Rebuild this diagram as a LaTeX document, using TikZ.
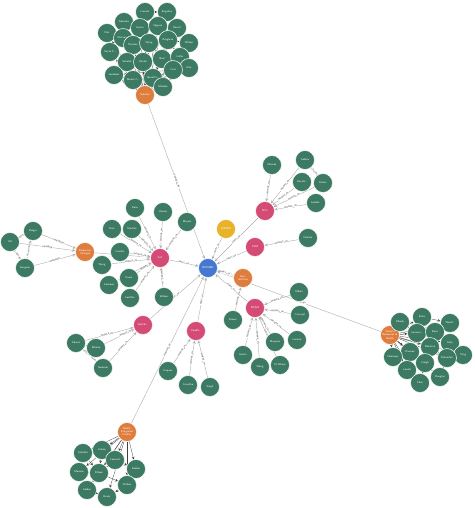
\documentclass[tikz,border=0pt]{standalone}
\usetikzlibrary{arrows}
\usetikzlibrary{backgrounds}
\begin{document}
\begin{tikzpicture}[line cap=round,line join=round,x=1pt,y=-1pt,
  ent/.style={circle,draw=white,line width=0.5pt,inner sep=0pt,minimum size=19pt,text=white,align=center,font=\sffamily\fontsize{2.7}{3.1}\selectfont},
  person/.style={ent,fill=ngreen},
  inst/.style={ent,fill=norange},
  dept/.style={ent,fill=npink},
  rel/.style={draw=egray,line width=0.4pt,->,>=stealth},
  coll/.style={draw=cgray,line width=0.3pt,->,>=stealth},
  elab/.style={sloped,midway,fill=white,inner sep=0.2pt,text=tgray,font=\sffamily\bfseries\fontsize{2.2}{2.4}\selectfont}]
\definecolor{ngreen}{rgb}{0.24,0.48,0.39}
\definecolor{norange}{rgb}{0.87,0.49,0.24}
\definecolor{npink}{rgb}{0.83,0.30,0.46}
\definecolor{nyellow}{rgb}{0.91,0.70,0.16}
\definecolor{nblue}{rgb}{0.28,0.47,0.82}
\definecolor{egray}{rgb}{0.68,0.68,0.68}
\definecolor{cgray}{rgb}{0.25,0.25,0.25}
\definecolor{tgray}{rgb}{0.38,0.38,0.38}
\useasboundingbox (0,0) rectangle (474,508);
% hub and first ring
\node[ent,fill=nblue] (biomed) at (208,268) {BIOMED};
\node[ent,fill=nyellow] (somed) at (226,229) {SOMED};
\node[dept] (gci) at (160,258) {GCI};
\node[dept] (rcl) at (265,211) {RCL};
\node[dept] (cvm) at (255,247) {CVM};
\node[dept] (ncam) at (255,308) {NCAM};
\node[dept] (bioch) at (143,325) {BioChi\ldots};
\node[dept] (foods) at (196,331) {FoodS\ldots};
\node[inst] (resinst) at (243,278) {Res.\\Institute};
\node[inst] (orgtop) at (145,95) {Sabatini};
\node[inst] (orgleft) at (85,252) {Endocrine\\Changes};
\node[inst] (orgright) at (390,335) {Natural\\Resources \&\\Health};
\node[inst] (orgbot) at (127,432) {Health\\Integrated\\Facility};
% people round the departments
\foreach \n/\x/\y/\t in {g1/135/208/Dean,g2/163/212/Okorie,g3/187/222/Meyers,g4/112/229/Diaz,g5/132/229/Martins,
  g6/120/252/Cambia,g7/102/265/Wang,g8/109/285/Andrews,g9/129/278/Kwon,g10/130/298/Lochbie,g11/164/297/Wilson}
  \node[person] (\n) at (\x,\y) {\t};
\foreach \n/\x/\y/\t in {l1/33/231/Bolger,l2/10/242/Gill,l3/25/268/Songwei}
  \node[person] (\n) at (\x,\y) {\t};
\foreach \n/\x/\y/\t in {r1/272/165/Marcos,r2/305/160/Gebbie,r3/302/182/{Kovalc\ldots},r4/323/183/Dolan,r5/316/203/{Lorello\ldots}}
  \node[person] (\n) at (\x,\y) {\t};
\node[person] (v1) at (308,238) {Denton};
\foreach \n/\x/\y/\t in {n1/299/292/Mbeki,n2/300/315/Carvajal,n3/233/320/Brown,n4/297/340/Lozano,
  n5/275/342/Marquez,n6/243/355/Garcia,n7/280/365/St.Hilaire,n8/260/367/Wong}
  \node[person] (\n) at (\x,\y) {\t};
\foreach \n/\x/\y/\t in {c1/76/343/Adams,c2/96/348/Ribeiro,c3/103/368/Sorberio}
  \node[person] (\n) at (\x,\y) {\t};
\foreach \n/\x/\y/\t in {f1/168/371/Kapoor,f2/188/385/Carvalho,f3/210/387/Singh}
  \node[person] (\n) at (\x,\y) {\t};
% top cluster
\foreach \n/\x/\y/\t in {t1/145/12/Lincoln,t2/167/12/Engelma,t3/124/22/Abendro,t4/140/28/Garcia,t5/158/26/Nguyen,
  t6/177/28/Hewitt,t7/107/33/Naz,t8/123/38/{Watana\ldots},t9/168/40/Bergman,t10/189/43/Wilson,t11/133/45/Paulsen,
  t12/149/43/Wang,t13/110/52/{Santo F\ldots},t14/127/62/Schulze,t15/143/62/Okafor,t16/162/59/Neal,t17/180/57/Lefler,
  t18/189/68/Kim,t19/173/70/Cruz,t20/114/75/Jacobsen,t21/133/80/{Monte C\ldots},t22/153/78/{Norel D\ldots},t23/163/87/Madsen}
  \node[person] (\n) at (\x,\y) {\t};
% right cluster
\foreach \n/\x/\y/\t in {q1/422/317/Brito,q2/400/322/Mbodj,q3/450/323/{Woolf\ldots},q4/417/333/{Jovanov\ldots},q5/435/332/Bean,
  q6/450/343/Kelly,q7/430/347/Nazarian,q8/410/352/Dawson,q9/463/355/Yang,q10/393/357/Henrique,
  q11/447/358/Eskandari,q12/425/363/Creigh,q13/407/370/Lowell,q14/440/377/Douglas,q15/420/383/Chen}
  \node[person] (\n) at (\x,\y) {\t};
% bottom cluster
\foreach \n/\x/\y/\t in {b1/102/450/Lisboa,b2/83/453/Schaffer,b3/115/460/Leonard,b4/136/469/Kessler,b5/79/472/Moreno,
  b6/99/473/Ellison,b7/127/485/Walker,b8/87/490/Golden,b9/107/497/Brady}
  \node[person] (\n) at (\x,\y) {\t};
\begin{scope}[on background layer]
% long links to the hub
\foreach \a in {orgtop,orgright,orgbot}
  \draw[rel] (\a) -- (biomed) node[elab] {FUNDED\_BY};
\foreach \a in {gci,rcl,cvm,ncam,bioch,foods,somed,resinst}
  \draw[rel] (\a) -- (biomed) node[elab] {PART\_OF};
\draw[rel] (orgleft) -- (gci) node[elab] {PARTNER};
\draw[rel] (n3) -- (resinst) node[elab] {WORKS\_IN};
% department members
\foreach \a/\p in {g1/0.5,g2/0.5,g3/0.5,g4/0.5,g5/0.5,g6/0.5,g7/0.5,g8/0.35,g9/0.6,g10/0.5,g11/0.5}
  \draw[rel] (\a) -- (gci) node[elab,pos=\p] {WORKS\_IN};
\foreach \a in {r1,r2,r3,r4,r5}
  \draw[rel] (\a) -- (rcl) node[elab] {WORKS\_IN};
\draw[rel] (v1) -- (cvm) node[elab] {WORKS\_IN};
\foreach \a in {n1,n2,n4,n5,n6,n7,n8}
  \draw[rel] (\a) -- (ncam) node[elab] {WORKS\_IN};
\foreach \a/\p in {c1/0.45,c2/0.7,c3/0.5}
  \draw[rel] (\a) -- (bioch) node[elab,pos=\p] {WORKS\_IN};
\foreach \a in {f1,f2,f3}
  \draw[rel] (\a) -- (foods) node[elab] {WORKS\_IN};
\foreach \a in {l1,l2,l3}
  \draw[rel] (\a) -- (orgleft) node[elab] {MEMBER};
\draw[rel] (r2) -- (r4) node[elab] {CO\_AUTHOR};
\draw[rel] (c3) -- (c1) node[elab,pos=0.45] {CO\_AUTHOR};
\draw[rel] (c2) -- (c1);
\draw[rel] (l1) -- (l2) node[elab] {CO\_AUTHOR};
\draw[rel] (l3) -- (l2) node[elab] {CO\_AUTHOR};
\draw[rel] (l3) -- (l1) node[elab] {CO\_AUTHOR};
% dense co-author clusters
\foreach \a in {t1,t2,t3,t4,t5,t6,t7,t8,t9,t10,t11,t12,t13,t14,t15,t16,t17,t18,t19,t20,t21,t22,t23}
  \draw[coll] (orgtop) -- (\a);
\foreach \a/\b in {t1/t2,t1/t4,t2/t5,t3/t4,t4/t5,t5/t6,t7/t8,t8/t11,t11/t12,t12/t9,t9/t10,t13/t14,t14/t15,t15/t16,
  t16/t17,t17/t18,t19/t20,t20/t21,t21/t22,t22/t23,t8/t12,t11/t15,t12/t16,t9/t17,t14/t20,t15/t21,t16/t22,t3/t13,t6/t18}
  \draw[coll] (\a) -- (\b);
\foreach \a in {q1,q2,q3,q4,q5,q6,q7,q8,q9,q10,q11,q12,q13,q14,q15}
  \draw[coll] (orgright) -- (\a);
\foreach \a/\b in {q1/q3,q2/q4,q4/q7,q5/q6,q7/q12,q8/q12,q6/q9,q11/q14,q12/q15,q13/q15,q4/q5,q7/q11,q8/q10}
  \draw[coll] (\a) -- (\b);
\foreach \a in {b1,b2,b3,b4,b5,b6,b7,b8,b9}
  \draw[coll] (orgbot) -- (\a);
\foreach \a/\b in {b1/b3,b2/b6,b3/b4,b5/b6,b6/b7,b7/b9,b8/b9,b3/b6,b4/b7,b1/b6}
  \draw[coll] (\a) -- (\b);
\end{scope}
\end{tikzpicture}
\end{document}
